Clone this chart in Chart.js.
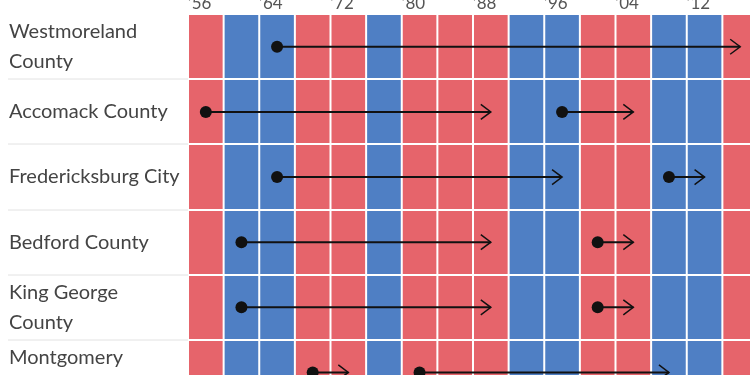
<!DOCTYPE html>
<html>
<head>
<meta charset="utf-8">
<script src="https://cdn.jsdelivr.net/npm/chart.js@4.4.1/dist/chart.umd.min.js"></script>
<style>
  html, body { margin: 0; padding: 0; background: #fff; overflow: hidden; }
  #wrap { width: 750px; height: 375px; overflow: hidden; }
  #chart { display: block; }
</style>
</head>
<body>
<div id="wrap"><canvas id="chart" width="758" height="405"></canvas></div>
<script>
// election years and the party that won the White House
var years = [1956, 1960, 1964, 1968, 1972, 1976, 1980, 1984, 1988, 1992, 1996, 2000, 2004, 2008, 2012, 2016];
var winners = ['R', 'D', 'D', 'R', 'R', 'D', 'R', 'R', 'R', 'D', 'D', 'R', 'R', 'D', 'D', 'R'];
var tickYears = [1956, 1964, 1972, 1980, 1988, 1996, 2004, 2012];

// counties ('\n' = line break in the label)
var counties = ['Westmoreland\nCounty', 'Accomack County', 'Fredericksburg City', 'Bedford County', 'King George\nCounty', 'Montgomery\nCounty'];

// bellwether streaks: county index, first and last year
var streakCounty = [0, 1, 1, 2, 2, 3, 3, 4, 4, 5, 5];
var streakStart = [1964, 1956, 1996, 1964, 2008, 1960, 2000, 1960, 2000, 1968, 1980];
var streakEnd = [2016, 1988, 2004, 1996, 2012, 1988, 2004, 1988, 2004, 1972, 2008];

var RED = '#E6646B';
var BLUE = '#4F7FC4';
var INK = '#111';

var columnsPlugin = {
  id: 'columns',
  beforeDatasetsDraw: function (chart) {
    var ctx = chart.ctx;
    var xs = chart.scales.x;
    var area = chart.chartArea;
    ctx.save();
    years.forEach(function (yr, i) {
      var x0 = xs.getPixelForValue(yr - 2);
      var x1 = xs.getPixelForValue(yr + 2);
      ctx.fillStyle = winners[i] === 'R' ? RED : BLUE;
      ctx.fillRect(x0 + 1, area.top, x1 - x0 - 2, area.bottom - area.top);
    });
    ctx.restore();
  }
};

var arrowPlugin = {
  id: 'arrowheads',
  afterDatasetsDraw: function (chart) {
    var ctx = chart.ctx;
    ctx.save();
    ctx.strokeStyle = INK;
    ctx.lineWidth = 1.5;
    chart.data.datasets.forEach(function (ds, i) {
      var pts = chart.getDatasetMeta(i).data;
      var tip = pts[pts.length - 1];
      ctx.beginPath();
      ctx.moveTo(tip.x - 10, tip.y - 7.5);
      ctx.lineTo(tip.x, tip.y);
      ctx.lineTo(tip.x - 10, tip.y + 7.5);
      ctx.stroke();
    });
    ctx.restore();
  }
};

var datasets = streakStart.map(function (start, i) {
  var county = counties[streakCounty[i]];
  return {
    data: [{ x: start, y: county }, { x: streakEnd[i], y: county }],
    borderColor: INK,
    borderWidth: 2,
    pointRadius: [6, 0],
    pointHoverRadius: [6, 0],
    pointBackgroundColor: INK,
    pointBorderWidth: 0,
    clip: false
  };
});

new Chart(document.getElementById('chart'), {
  type: 'line',
  data: { datasets: datasets },
  plugins: [columnsPlugin, arrowPlugin],
  options: {
    responsive: false,
    animation: false,
    layout: { autoPadding: false, padding: { left: 9, top: 0, right: 0, bottom: 0 } },
    plugins: { legend: { display: false }, tooltip: { enabled: false } },
    scales: {
      x: {
        type: 'linear',
        position: 'top',
        min: 1954,
        max: 2018,
        grid: { display: false, drawTicks: false },
        border: { display: false },
        afterBuildTicks: function (scale) {
          scale.ticks = tickYears.map(function (y) { return { value: y - 2 }; });
        },
        afterFit: function (scale) {
          scale.height = 14.2;
          scale.paddingLeft = 0;
          scale.paddingRight = 0;
        },
        ticks: {
          align: 'start',
          autoSkip: false,
          maxRotation: 0,
          padding: 0,
          color: '#555',
          font: { family: 'Lato', size: 17 },
          callback: function (v) { return '\u2019' + String(v + 2).slice(2); }
        }
      },
      y: {
        type: 'category',
        labels: counties,
        offset: true,
        grid: {
          offset: true,
          z: 1,
          color: '#fff',
          lineWidth: 2,
          tickLength: 180,
          tickWidth: 1,
          tickColor: function (c) { return c.index === 0 ? 'rgba(0,0,0,0)' : '#e2e2e2'; }
        },
        border: { display: false },
        afterFit: function (scale) {
          scale.width = 179;
          scale.paddingTop = 0;
          scale.paddingBottom = 0;
        },
        ticks: {
          crossAlign: 'far',
          autoSkip: false,
          color: '#444',
          font: { family: 'Lato', size: 20, lineHeight: 1.5 },
          callback: function (v) { return counties[v].split('\n'); }
        }
      }
    }
  }
});
</script>
</body>
</html>
